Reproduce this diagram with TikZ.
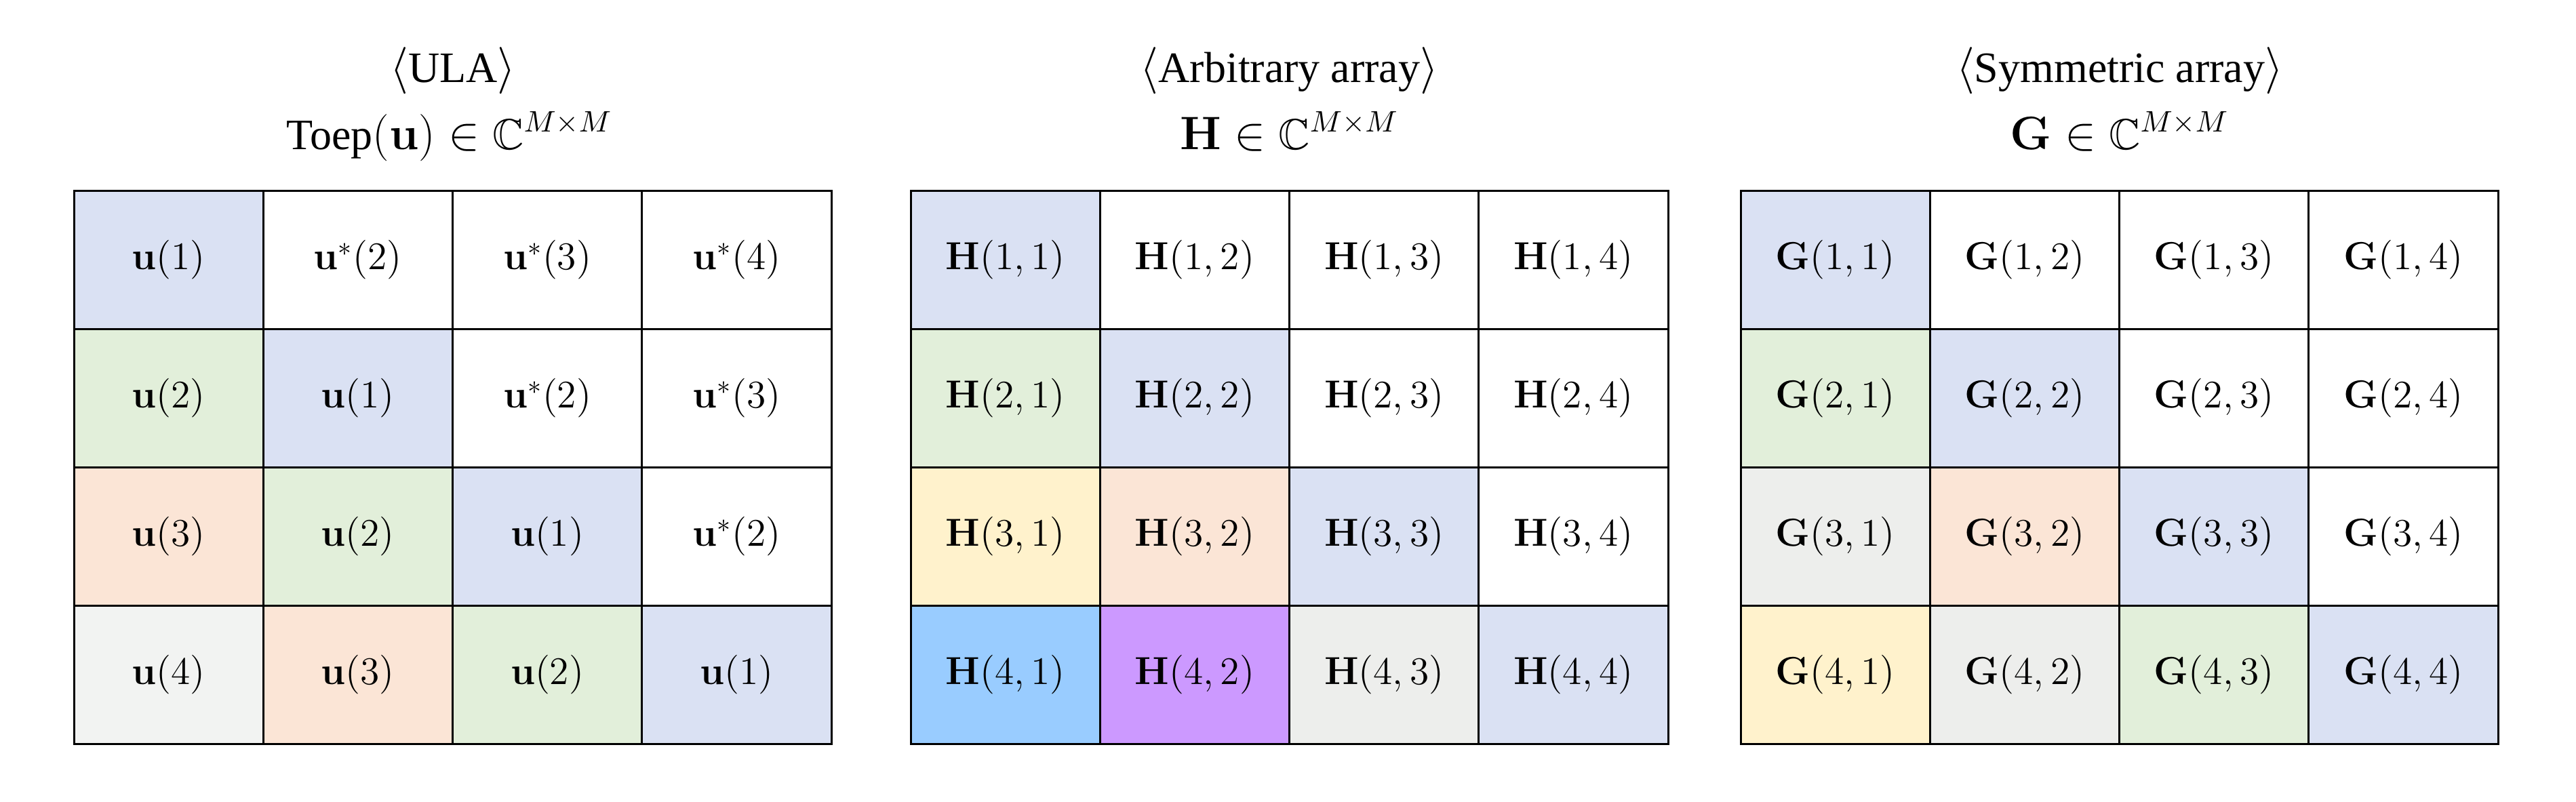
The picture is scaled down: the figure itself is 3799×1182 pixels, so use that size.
\documentclass[tikz,border=0pt]{standalone}
\usepackage{amsmath,amssymb}
\usepackage[no-math]{fontspec}
\setmainfont{Liberation Serif}
\definecolor{cB}{HTML}{DAE1F3}
\definecolor{cG}{HTML}{E2EFDA}
\definecolor{cP}{HTML}{FBE5D6}
\definecolor{cL}{HTML}{F2F3F2}
\definecolor{cD}{HTML}{EDEEEC}
\definecolor{cY}{HTML}{FFF2CC}
\definecolor{cS}{HTML}{99CCFF}
\definecolor{cV}{HTML}{CC99FF}
\definecolor{cW}{HTML}{FFFFFF}
\tikzset{
  cellbox/.style={draw=black, line width=0.75pt, minimum width=69.81pt, minimum height=51pt, inner sep=0pt, font=\fontsize{14.25}{17}\selectfont},
  titletext/.style={anchor=base, inner sep=0pt, font=\fontsize{16}{19}\selectfont}
}
\begin{document}
\begin{tikzpicture}[x=0.25pt, y=-0.25pt]
\useasboundingbox (0,0) rectangle (3799,1182);
\def\cw{279.25}
\def\ch{204}
\def\top{281.5}
% Grid 1: ULA
\def\gx{109}
\foreach \r/\c/\f/\t in {
 1/1/cB/{\mathbf{u}(1)}, 1/2/cW/{\mathbf{u}^*(2)}, 1/3/cW/{\mathbf{u}^*(3)}, 1/4/cW/{\mathbf{u}^*(4)},
 2/1/cG/{\mathbf{u}(2)}, 2/2/cB/{\mathbf{u}(1)}, 2/3/cW/{\mathbf{u}^*(2)}, 2/4/cW/{\mathbf{u}^*(3)},
 3/1/cP/{\mathbf{u}(3)}, 3/2/cG/{\mathbf{u}(2)}, 3/3/cB/{\mathbf{u}(1)}, 3/4/cW/{\mathbf{u}^*(2)},
 4/1/cL/{\mathbf{u}(4)}, 4/2/cP/{\mathbf{u}(3)}, 4/3/cG/{\mathbf{u}(2)}, 4/4/cB/{\mathbf{u}(1)}}
 \node[cellbox, fill=\f] (a-\r-\c) at ({\gx+(\c-0.5)*\cw},{\top+(\r-0.5)*\ch}) {$\t$};
\node[titletext] (a-t1) at (668,121) {$\langle$ULA$\rangle$};
\node[titletext] (a-t2) at (663,220) {Toep$(\mathbf{u})\in\mathbb{C}^{M\times M}$};
% Grid 2: arbitrary
\def\gx{1343}
\foreach \r/\c/\f in {
 1/1/cB, 1/2/cW, 1/3/cW, 1/4/cW,
 2/1/cG, 2/2/cB, 2/3/cW, 2/4/cW,
 3/1/cY, 3/2/cP, 3/3/cB, 3/4/cW,
 4/1/cS, 4/2/cV, 4/3/cD, 4/4/cB}
 \node[cellbox, fill=\f] (b-\r-\c) at ({\gx+(\c-0.5)*\cw},{\top+(\r-0.5)*\ch}) {$\mathbf{H}(\r,\c)$};
\node[titletext] (b-t1) at (1901.5,121) {$\langle$Arbitrary array$\rangle$};
\node[titletext] (b-t2) at (1901.5,220) {$\mathbf{H}\in\mathbb{C}^{M\times M}$};
% Grid 3: symmetric
\def\gx{2567}
\foreach \r/\c/\f in {
 1/1/cB, 1/2/cW, 1/3/cW, 1/4/cW,
 2/1/cG, 2/2/cB, 2/3/cW, 2/4/cW,
 3/1/cD, 3/2/cP, 3/3/cB, 3/4/cW,
 4/1/cY, 4/2/cD, 4/3/cG, 4/4/cB}
 \node[cellbox, fill=\f] (c-\r-\c) at ({\gx+(\c-0.5)*\cw},{\top+(\r-0.5)*\ch}) {$\mathbf{G}(\r,\c)$};
\node[titletext] (c-t1) at (3126,121) {$\langle$Symmetric array$\rangle$};
\node[titletext] (c-t2) at (3126,220) {$\mathbf{G}\in\mathbb{C}^{M\times M}$};
\end{tikzpicture}
\end{document}
